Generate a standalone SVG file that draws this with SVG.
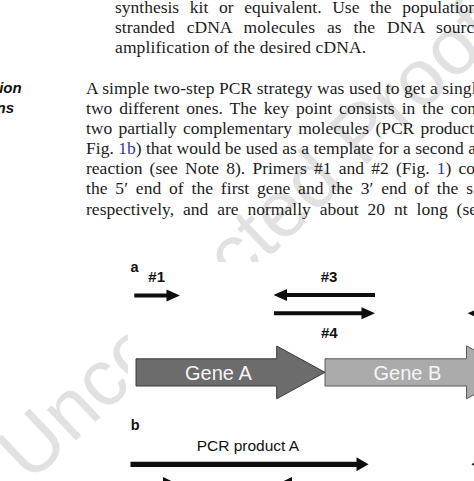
<svg xmlns="http://www.w3.org/2000/svg" width="474" height="481" viewBox="0 0 474 481">
<style>
.body{font-family:"Liberation Serif","Times New Roman",serif;font-size:17.5px;fill:#1c1c1c}
.link{fill:#2d3ca8}
.side{font-family:"Liberation Sans",Arial,sans-serif;font-size:15px;font-weight:bold;font-style:italic;fill:#111}
.wm{font-family:"Liberation Sans",Arial,sans-serif;font-size:80px;fill:#e1e1e1}
.lbl{font-family:"Liberation Sans",Arial,sans-serif;font-weight:bold;fill:#111}
.plain{font-family:"Liberation Sans",Arial,sans-serif;font-weight:normal;fill:#111}
.gene{font-family:"Liberation Sans",Arial,sans-serif;font-size:20px;fill:#f5f5f5}
.arr{fill:#0d0d0d}
</style>
<rect width="474" height="481" fill="#fff"/>
<text class="wm" transform="translate(30,484) rotate(-43.5)">Uncorrected Proof</text>
<g id="side-heading">
<text class="side" x="21.7" y="93" text-anchor="end">tion</text>
<text class="side" x="14" y="113" text-anchor="end">ns</text>
</g>
<g id="paragraph1">
<text class="body" x="115" y="13" textLength="362" lengthAdjust="spacing" word-spacing="6.3">synthesis kit or equivalent. Use the population</text>
<text class="body" x="115" y="33" textLength="367" lengthAdjust="spacing" word-spacing="7.5">stranded cDNA molecules as the DNA source</text>
<text class="body" x="115" y="53" textLength="251" lengthAdjust="spacing">amplification of the desired cDNA.</text>
</g>
<g id="paragraph2">
<text class="body" x="86" y="94" textLength="390.5" lengthAdjust="spacing">A simple two-step PCR strategy was used to get a singl</text>
<text class="body" x="86" y="114" textLength="390" lengthAdjust="spacing" word-spacing="2.6">two different ones. The key point consists in the con</text>
<text class="body" x="86" y="134" textLength="388" lengthAdjust="spacing" word-spacing="1.9">two partially complementary molecules (PCR product</text>
<text class="body" x="86" y="154" textLength="390" lengthAdjust="spacing">Fig. <tspan class="link">1b</tspan>) that would be used as a template for a second a</text>
<text class="body" x="86" y="174" textLength="389" lengthAdjust="spacing" word-spacing="2.8">reaction (see Note 8). Primers #1 and #2 (Fig. <tspan class="link">1</tspan>) co</text>
<text class="body" x="86" y="194" textLength="387" lengthAdjust="spacing" word-spacing="3.4">the 5′ end of the first gene and the 3′ end of the s</text>
<text class="body" x="86" y="215" textLength="391" lengthAdjust="spacing" word-spacing="4.5">respectively, and are normally about 20 nt long (se</text>
</g>
<g id="figure">
<rect x="128" y="262" width="346" height="219" fill="#fff"/>
<text class="lbl" x="130.5" y="271.7" font-size="14.5">a</text>
<text class="lbl" x="130.7" y="430" font-size="14.5">b</text>
<g id="gene-b">
<path d="M325,358.8 H466.5 V345.8 L515,372.3 L466.5,398.8 V386 H325 Z" fill="#ababab" stroke="#5a5a5a" stroke-width="1"/>
<text class="gene" x="373.5" y="379.5">Gene B</text>
</g>
<g id="gene-a">
<path d="M136,358.8 H276.7 V346 L325,372.3 L276.7,398.8 V386 H136 Z" fill="#6c6c6c" stroke="#3a3a3a" stroke-width="1"/>
<text class="gene" x="185" y="379.5">Gene A</text>
</g>
<g id="primer-1">
<text class="lbl" x="148.3" y="281.7" font-size="15">#1</text>
</g>
<g id="primer-3">
<text class="lbl" x="320.7" y="281.7" font-size="15">#3</text>
</g>
<g id="primer-4">
<text class="lbl" x="321" y="338.3" font-size="15">#4</text>
</g>
<g id="pcr-product-a">
<text class="plain" x="196.7" y="450.7" font-size="15.5">PCR product A</text>
</g>
<g id="connectors">
<path class="arr" d="M134.3,293.5 H166.5 V289.5 L180,295.5 L166.5,301.5 V297.5 H134.3 Z"/>
<path class="arr" d="M375,293 H287 V289 L273.5,295 L287,301 V297 H375 Z"/>
<path class="arr" d="M274,311.3 H361.5 V307.3 L375,313.3 L361.5,319.3 V315.3 H274 Z"/>
<path class="arr" d="M560,311.3 H481 V307.3 L467.5,313.3 L481,319.3 V315.3 H560 Z"/>
<path class="arr" d="M130.5,461.7 H356.5 V457.3 L368.5,464.3 L356.5,471.3 V466.9 H130.5 Z"/>
<path class="arr" d="M560,461.7 H483.5 V457.3 L471.5,464.3 L483.5,471.3 V466.9 H560 Z"/>
<path class="arr" d="M130.5,481.5 H163 V477 L176.5,483.5 L163,490 V485.5 H130.5 Z"/>
<path class="arr" d="M375,481.5 H292 V477 L278.5,483.5 L292,490 V485.5 H375 Z"/>
</g>
</g>
</svg>
